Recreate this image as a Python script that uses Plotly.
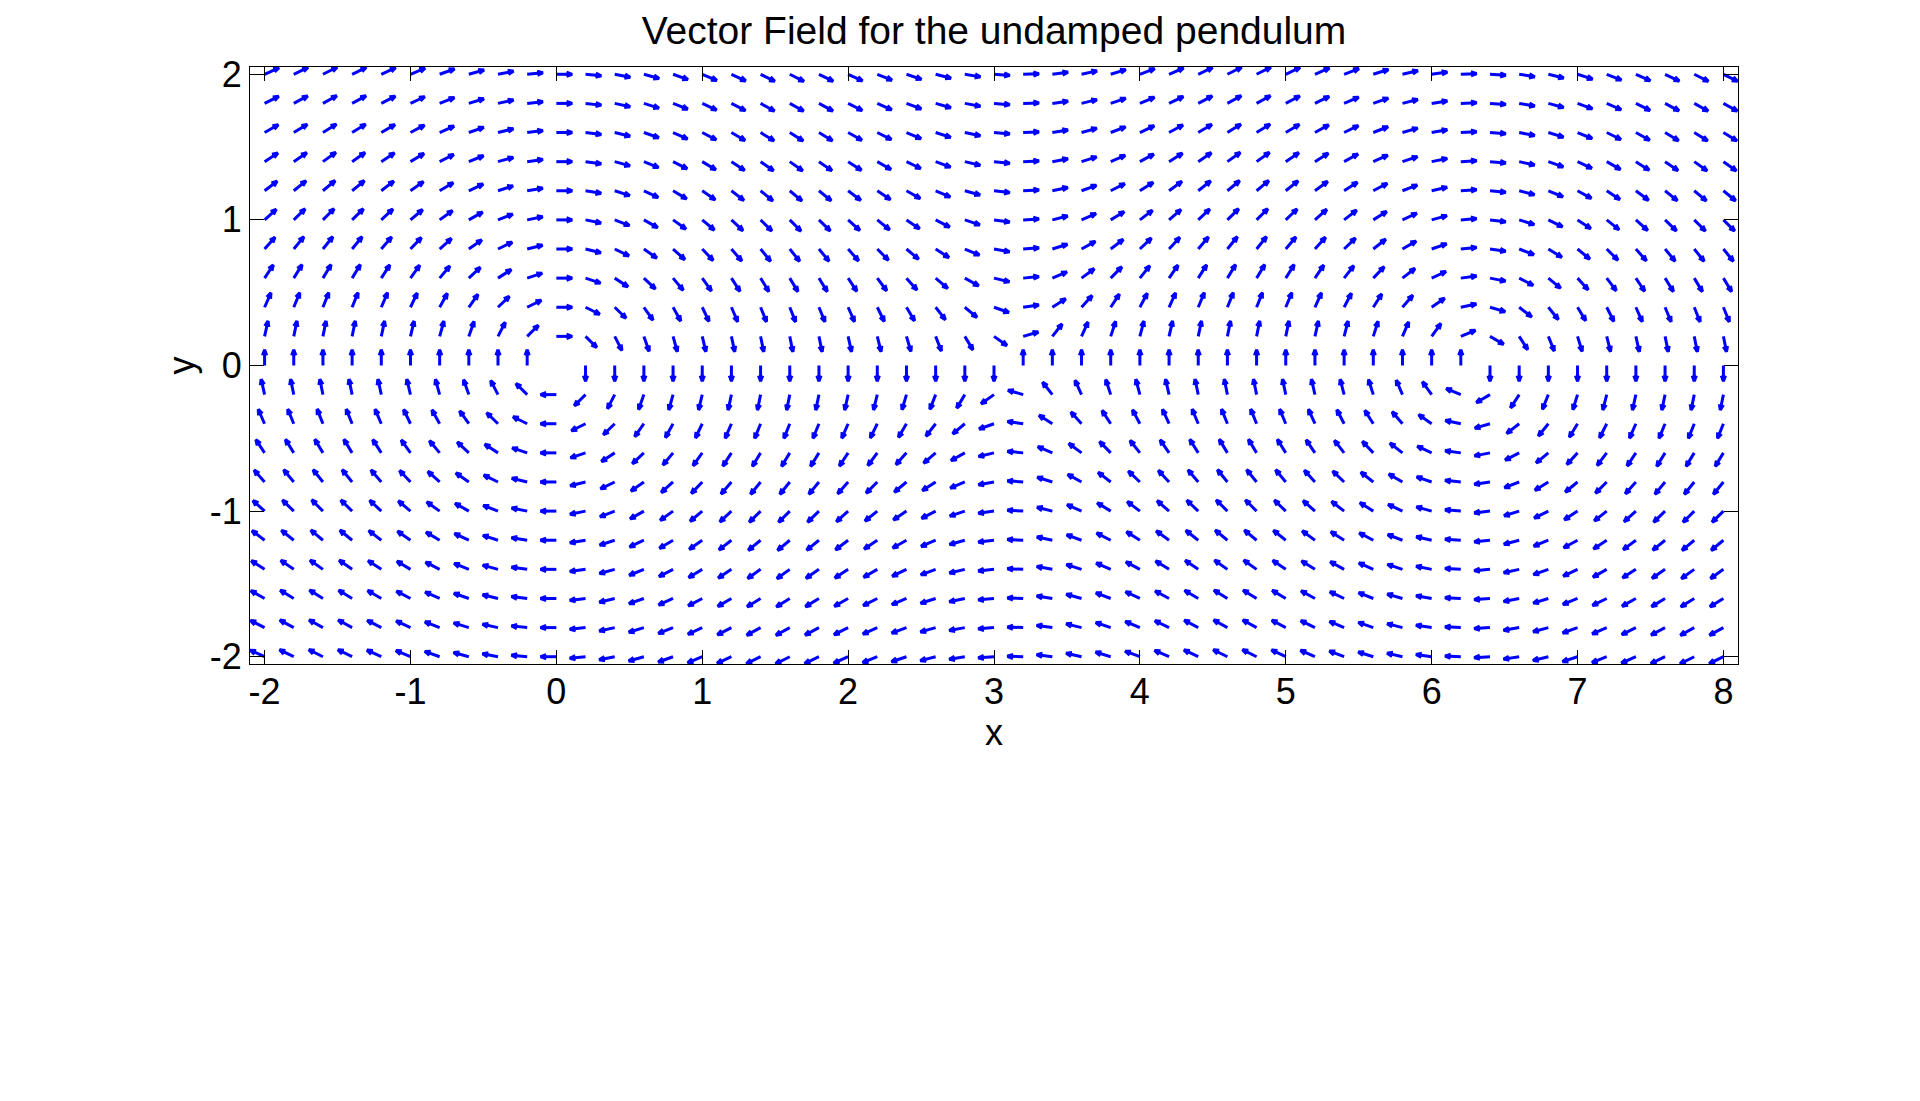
import numpy as np
import plotly.figure_factory as ff
import plotly.graph_objects as go

# Grid of sample points (x = angle, y = angular velocity)
x_values = [-2.0, -1.8, -1.6, -1.4, -1.2, -1.0, -0.8, -0.6, -0.4, -0.2,
            0.0, 0.2, 0.4, 0.6, 0.8, 1.0, 1.2, 1.4, 1.6, 1.8,
            2.0, 2.2, 2.4, 2.6, 2.8, 3.0, 3.2, 3.4, 3.6, 3.8,
            4.0, 4.2, 4.4, 4.6, 4.8, 5.0, 5.2, 5.4, 5.6, 5.8,
            6.0, 6.2, 6.4, 6.6, 6.8, 7.0, 7.2, 7.4, 7.6, 7.8, 8.0]
y_values = [-2.0, -1.8, -1.6, -1.4, -1.2, -1.0, -0.8, -0.6, -0.4, -0.2,
            0.0, 0.2, 0.4, 0.6, 0.8, 1.0, 1.2, 1.4, 1.6, 1.8, 2.0]
x_ticks = [-2, -1, 0, 1, 2, 3, 4, 5, 6, 7, 8]
y_ticks = [-2, -1, 0, 1, 2]

# Undamped pendulum: x' = y, y' = -sin(x); arrows normalised to unit length
X, Y = np.meshgrid(np.array(x_values), np.array(y_values))
U = Y
V = -np.sin(X)
L = np.sqrt(U ** 2 + V ** 2)
mask = L > 1e-12
xs = X[mask]
ys = Y[mask]
us = U[mask] / L[mask]
vs = V[mask] / L[mask]

ARROW_LEN = 0.108
qfig = ff.create_quiver(xs, ys, us, vs, scale=ARROW_LEN, arrow_scale=0.38,
                        angle=np.arctan(0.38),
                        line=dict(color="rgb(0,0,255)", width=3))

fig = go.Figure(data=qfig.data)
fig.update_traces(showlegend=False, hoverinfo="skip")

font_family = "Liberation Sans, Arial, sans-serif"
fig.update_layout(
    width=1920, height=1101,
    paper_bgcolor="white", plot_bgcolor="white",
    margin=dict(l=242, r=190, t=59, b=445),
    showlegend=False,
    title=dict(text="Vector Field for the undamped pendulum",
               x=0.5, xref="paper", xanchor="center",
               y=1 - 22 / 1101, yref="container", yanchor="middle",
               font=dict(family=font_family, size=39, color="black")),
    font=dict(family=font_family, size=36, color="black"),
)
axis_common = dict(showgrid=False, zeroline=False, showline=True,
                   linecolor="black", linewidth=1, mirror="ticks",
                   ticks="inside", ticklen=14, tickwidth=1, tickcolor="black",
                   tickfont=dict(family=font_family, size=36, color="black"))
fig.update_xaxes(range=[-2.1, 8.1], tickvals=x_ticks,
                 ticktext=[str(t) for t in x_ticks],
                 ticklabelstandoff=-4,
                 title=dict(text="x", standoff=4,
                            font=dict(family=font_family, size=36)),
                 **axis_common)
fig.update_yaxes(range=[-2.05, 2.05], tickvals=y_ticks,
                 ticktext=[str(t) for t in y_ticks],
                 title=dict(text="y", standoff=4,
                            font=dict(family=font_family, size=36)),
                 **axis_common)

fig.write_html("out.html")
